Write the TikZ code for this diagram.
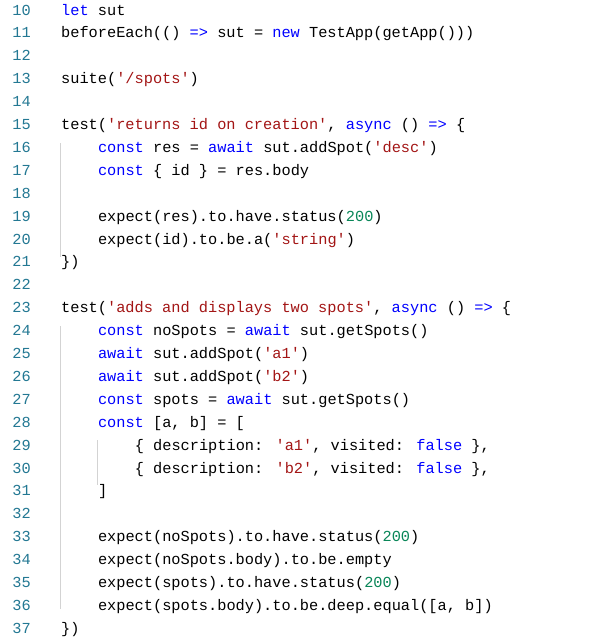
\documentclass[tikz,border=0pt]{standalone}
\usepackage{fontspec}
\newfontfamily\code{Liberation Mono}
\definecolor{kwc}{HTML}{0000FF}
\definecolor{stc}{HTML}{A31515}
\definecolor{nmc}{HTML}{098658}
\definecolor{lnc}{HTML}{237893}
\definecolor{txc}{HTML}{000000}
\definecolor{gdc}{HTML}{D3D3D3}
\newcommand\kw[1]{\textcolor{kwc}{#1}}
\newcommand\st[1]{\textcolor{stc}{#1}}
\newcommand\nm[1]{\textcolor{nmc}{#1}}
\newcommand\codeline[3]{%
  \node[lnum] (n#1) at (31pt,{-(15pt+22.9pt*(#1-10))}) {#1};
  \node[ctext] (c#1) at ({61pt+9.2pt*#2},{-(15pt+22.9pt*(#1-10))}) {#3};}
\begin{document}
\begin{tikzpicture}[x=1pt,y=1pt,
  lnum/.style={anchor=base east,inner sep=0,font=\code\fontsize{15.3}{18}\selectfont,text=lnc},
  ctext/.style={anchor=base west,inner sep=0,font=\code\fontsize{15.3}{18}\selectfont,text=txc},
  guide/.style={draw=gdc,line width=0.8pt}]
\fill[white] (0,0) rectangle (605,-643);
\useasboundingbox (0,0) rectangle (605,-643);
\draw[guide] (60.5,-143) -- (60.5,-257);
\draw[guide] (60.5,-326) -- (60.5,-609);
\draw[guide] (97.5,-440) -- (97.5,-485);
\codeline{10}{0}{\kw{let} sut}
\codeline{11}{0}{beforeEach(() \kw{=>} sut = \kw{new} TestApp(getApp()))}
\codeline{12}{0}{}
\codeline{13}{0}{suite(\st{'/spots'})}
\codeline{14}{0}{}
\codeline{15}{0}{test(\st{'returns id on creation'}, \kw{async} () \kw{=>} \{}
\codeline{16}{4}{\kw{const} res = \kw{await} sut.addSpot(\st{'desc'})}
\codeline{17}{4}{\kw{const} \{ id \} = res.body}
\codeline{18}{0}{}
\codeline{19}{4}{expect(res).to.have.status(\nm{200})}
\codeline{20}{4}{expect(id).to.be.a(\st{'string'})}
\codeline{21}{0}{\})}
\codeline{22}{0}{}
\codeline{23}{0}{test(\st{'adds and displays two spots'}, \kw{async} () \kw{=>} \{}
\codeline{24}{4}{\kw{const} noSpots = \kw{await} sut.getSpots()}
\codeline{25}{4}{\kw{await} sut.addSpot(\st{'a1'})}
\codeline{26}{4}{\kw{await} sut.addSpot(\st{'b2'})}
\codeline{27}{4}{\kw{const} spots = \kw{await} sut.getSpots()}
\codeline{28}{4}{\kw{const} [a, b] = [}
\codeline{29}{8}{\{ description: \st{'a1'}, visited: \kw{false} \},}
\codeline{30}{8}{\{ description: \st{'b2'}, visited: \kw{false} \},}
\codeline{31}{4}{]}
\codeline{32}{0}{}
\codeline{33}{4}{expect(noSpots).to.have.status(\nm{200})}
\codeline{34}{4}{expect(noSpots.body).to.be.empty}
\codeline{35}{4}{expect(spots).to.have.status(\nm{200})}
\codeline{36}{4}{expect(spots.body).to.be.deep.equal([a, b])}
\codeline{37}{0}{\})}
\end{tikzpicture}
\end{document}
